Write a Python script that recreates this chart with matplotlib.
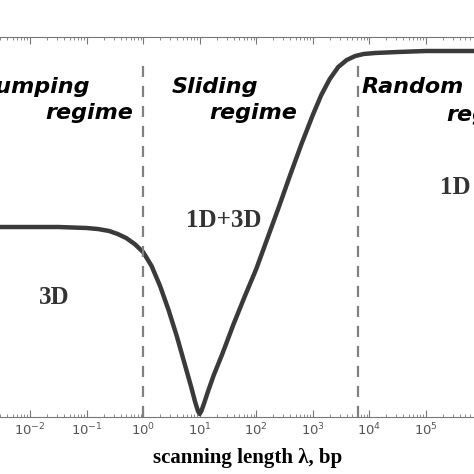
import numpy as np
import matplotlib
matplotlib.use("Agg")
import matplotlib.pyplot as plt

# curve points (log10 lambda, height above axis bottom in px units)
logx = [-2.6, -1.5, -1.0, -0.8, -0.6, -0.45, -0.3, -0.15, 0.0, 0.15, 0.3, 0.45, 0.6, 0.75, 0.85, 0.92, 0.97, 1.0, 1.03, 1.08, 1.15, 1.25, 1.4, 1.6, 1.8, 2.0, 2.2, 2.4, 2.6, 2.8, 3.0, 3.15, 3.3, 3.45, 3.6, 3.75, 3.9, 4.1, 4.5, 5.0, 5.9]
yval = [190, 190, 189, 188, 186, 183, 179, 173, 165, 151, 131, 107, 80, 50, 30, 15, 6, 3, 6, 14, 26, 42, 63, 93, 121, 148, 179, 210, 242, 273, 302, 322, 338, 350, 357, 361, 363, 364, 365, 366, 366]
vlines = [1.0, 6.3e3]

fig = plt.figure(figsize=(4.74, 4.74), dpi=100)
ax = fig.add_axes([0, 57/474, 1, 380/474])
x = 10.0 ** np.array(logx)
ax.plot(x, yval, color="#3a3a3a", lw=3.2, solid_capstyle="round", solid_joinstyle="round")
for v in vlines:
    ax.plot([v, v], [0, 360], color="#808080", lw=1.6, ls=(0, (5, 4)))
ax.set_xscale("log")
ax.set_xlim(10 ** -2.53, 10 ** 5.85)
ax.set_ylim(0, 380)
for s in ["left", "right"]:
    ax.spines[s].set_visible(False)
for s in ["top", "bottom"]:
    ax.spines[s].set_color("#777777")
ax.set_yticks([])
ax.tick_params(axis="x", which="both", direction="in", top=True, color="#777777", labelcolor="#555555", labelsize=9.5)
ax.tick_params(axis="x", which="major", length=5)
ax.tick_params(axis="x", which="minor", length=2.5)
ax.set_xticks([10.0 ** k for k in range(-2, 6)])

kw = dict(fontsize=16, fontweight="bold", fontstyle="italic", family="DejaVu Sans", transform=ax.transAxes)
def px(xp, yp):
    return xp / 474, (417 - yp) / 380
ax.text(*px(-12, 87), "Jumping", ha="left", va="center", **kw)
ax.text(*px(133, 113), "regime", ha="right", va="center", **kw)
ax.text(*px(172, 87), "Sliding", ha="left", va="center", **kw)
ax.text(*px(297, 113), "regime", ha="right", va="center", **kw)
ax.text(*px(362, 87), "Random", ha="left", va="center", **kw)
ax.text(*px(446, 115), "regime", ha="left", va="center", **kw)
skw = dict(fontsize=18, fontweight="bold", family="Liberation Serif", color="#333333", transform=ax.transAxes, va="center")
ax.text(*px(440, 188), "1D", ha="left", **skw)
ax.text(*px(224, 221), "1D+3D", ha="center", **skw)
ax.text(*px(54, 298), "3D", ha="center", **skw)
fig.text(248 / 474, 1 - 458 / 474, "scanning length λ, bp", ha="center", va="center",
         fontsize=15, fontweight="bold", family="Liberation Serif")
fig.savefig("out.png", dpi=100)
